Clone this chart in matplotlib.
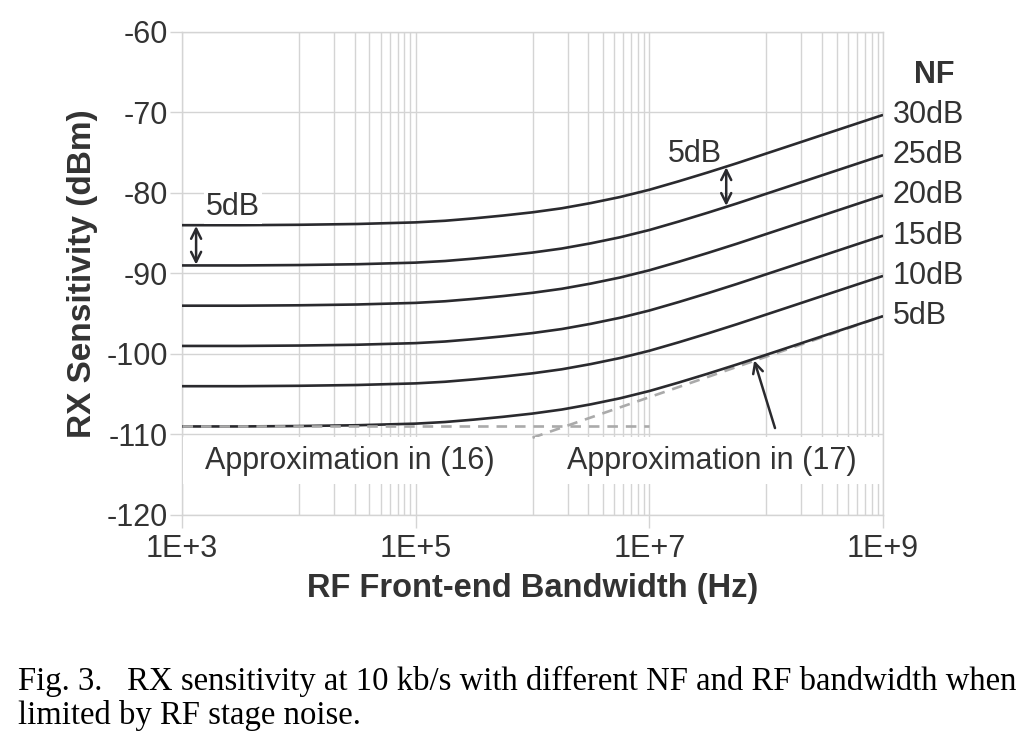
import matplotlib
matplotlib.use('Agg')
import matplotlib.pyplot as plt
from matplotlib.patches import Rectangle

# bandwidth points (Hz) and sensitivity (dBm)
bandwidth = [1e3, 3.16e3, 1e4, 3.16e4, 1e5, 1.78e5, 3.16e5, 5.62e5, 1e6, 1.78e6,
             3.16e6, 5.62e6, 1e7, 1.78e7, 3.16e7, 5.62e7, 1e8, 1.78e8, 3.16e8, 5.62e8, 1e9]
sens_nf5 = [-109.0, -109.0, -108.95, -108.85, -108.65, -108.45, -108.15, -107.8, -107.4, -106.9,
            -106.25, -105.5, -104.6, -103.55, -102.45, -101.3, -100.1, -98.9, -97.7, -96.5, -95.3]
sens_nf10 = [-104.0, -104.0, -103.95, -103.85, -103.65, -103.45, -103.15, -102.8, -102.4, -101.9,
             -101.25, -100.5, -99.6, -98.55, -97.45, -96.3, -95.1, -93.9, -92.7, -91.5, -90.3]
sens_nf15 = [-99.0, -99.0, -98.95, -98.85, -98.65, -98.45, -98.15, -97.8, -97.4, -96.9,
             -96.25, -95.5, -94.6, -93.55, -92.45, -91.3, -90.1, -88.9, -87.7, -86.5, -85.3]
sens_nf20 = [-94.0, -94.0, -93.95, -93.85, -93.65, -93.45, -93.15, -92.8, -92.4, -91.9,
             -91.25, -90.5, -89.6, -88.55, -87.45, -86.3, -85.1, -83.9, -82.7, -81.5, -80.3]
sens_nf25 = [-89.0, -89.0, -88.95, -88.85, -88.65, -88.45, -88.15, -87.8, -87.4, -86.9,
             -86.25, -85.5, -84.6, -83.55, -82.45, -81.3, -80.1, -78.9, -77.7, -76.5, -75.3]
sens_nf30 = [-84.0, -84.0, -83.95, -83.85, -83.65, -83.45, -83.15, -82.8, -82.4, -81.9,
             -81.25, -80.5, -79.6, -78.55, -77.45, -76.3, -75.1, -73.9, -72.7, -71.5, -70.3]
curves = [sens_nf5, sens_nf10, sens_nf15, sens_nf20, sens_nf25, sens_nf30]
nf_labels = ['5dB', '10dB', '15dB', '20dB', '25dB', '30dB']

# approximations
approx16_bw = [1e3, 1e7]
approx16_val = [-109.0, -109.0]
approx17_bw = [1e6, 1e9]
approx17_val = [-110.4, -95.3]

plt.rcParams['font.family'] = ['Liberation Sans', 'DejaVu Sans']
plt.rcParams['axes.unicode_minus'] = False
txt = '#333333'
grid = '#d4d4d4'
line = '#2a2a2e'

fig = plt.figure(figsize=(10.33, 7.44), dpi=100)
ax = fig.add_axes([0.1762, 0.3078, 0.6786, 0.6492])
ax.set_xscale('log')
ax.set_xlim(1e3, 1e9)
ax.set_ylim(-120, -60)

# grid: every decade, minor lines only in every other decade
for d in range(3, 10):
    ax.axvline(10.0 ** d, color=grid, lw=1.0, zorder=0)
for d in (4, 6, 8):
    for k in range(2, 10):
        ax.axvline(k * 10.0 ** d, color=grid, lw=1.0, zorder=0)
for yv in range(-120, -59, 10):
    ax.axhline(yv, color=grid, lw=1.0, zorder=0)

for s in ax.spines.values():
    s.set_color(grid)
    s.set_linewidth(1.0)

ax.set_xticks([1e3, 1e5, 1e7, 1e9])
ax.set_xticklabels(['1E+3', '1E+5', '1E+7', '1E+9'])
ax.minorticks_off()
ax.set_yticks(range(-120, -59, 10))
ax.tick_params(axis='both', colors=grid, length=9, width=1.0, labelsize=22,
               labelcolor=txt)
ax.tick_params(axis='y', pad=1)
ax.tick_params(axis='x', pad=5)

ax.set_xlabel('RF Front-end Bandwidth (Hz)', fontsize=23.5, fontweight='bold',
              color=txt, labelpad=6)
ax.set_ylabel('RX Sensitivity (dBm)', fontsize=24, fontweight='bold',
              color=txt, labelpad=6)

for vals in curves:
    ax.plot(bandwidth, vals, color=line, lw=1.9, zorder=3, solid_capstyle='butt')

ax.plot(approx16_bw, approx16_val, color='#aaaaaa', lw=1.9, ls=(0, (4, 3)), zorder=4)
ax.plot(approx17_bw, approx17_val, color='#aaaaaa', lw=1.9, ls=(0, (4, 3)), zorder=2)

# white label boxes hiding the grid
ax.add_patch(Rectangle((1.02e3, -116.1), 0.96e6 - 1.02e3, 5.8, facecolor='white',
                       edgecolor='none', zorder=5))
ax.add_patch(Rectangle((1.06e6, -116.1), 0.985e9 - 1.06e6, 5.8, facecolor='white',
                       edgecolor='none', zorder=5))
ax.text(2.73e4, -113.3, 'Approximation in (16)', fontsize=22, color=txt,
        ha='center', va='center', zorder=6)
ax.text(3.45e7, -113.3, 'Approximation in (17)', fontsize=22, color=txt,
        ha='center', va='center', zorder=6)

# 5dB markers
ax.text(2.73e3, -81.8, '5dB', fontsize=22, color=txt, ha='center', va='center', zorder=6,
        bbox=dict(facecolor='white', edgecolor='none', pad=1))
ax.annotate('', xy=(1.32e3, -84.1), xytext=(1.32e3, -88.9),
            arrowprops=dict(arrowstyle='<->', color=line, lw=1.8, mutation_scale=18,
                            shrinkA=0, shrinkB=0), zorder=6)
ax.text(2.43e7, -75.1, '5dB', fontsize=22, color=txt, ha='center', va='center', zorder=6)
ax.annotate('', xy=(4.55e7, -76.8), xytext=(4.55e7, -81.6),
            arrowprops=dict(arrowstyle='<->', color=line, lw=1.8, mutation_scale=18,
                            shrinkA=0, shrinkB=0), zorder=6)
ax.annotate('', xy=(7.9e7, -100.8), xytext=(1.19e8, -109.2),
            arrowprops=dict(arrowstyle='->', color=line, lw=1.8, mutation_scale=18,
                            shrinkA=0, shrinkB=0), zorder=6)

# NF labels at curve ends
for vals, lab in zip(curves, nf_labels):
    ax.annotate(lab, xy=(1e9, vals[-1]), xytext=(7, 0), textcoords='offset points',
                fontsize=22, color=txt, ha='left', va='center', annotation_clip=False)
ax.annotate('NF', xy=(1e9, -65.3), xytext=(37, 0), textcoords='offset points',
            fontsize=22, fontweight='bold', color=txt, ha='center', va='center',
            annotation_clip=False)

# caption
fig.text(18 / 1033, 1 - 690 / 744,
         'Fig. 3.   RX sensitivity at 10 kb/s with different NF and RF bandwidth when',
         fontsize=23.6, family='Liberation Serif', color='black', ha='left', va='baseline')
fig.text(18 / 1033, 1 - 724 / 744, 'limited by RF stage noise.',
         fontsize=23.6, family='Liberation Serif', color='black', ha='left', va='baseline')

fig.savefig('out.png', dpi=100, facecolor='white')
